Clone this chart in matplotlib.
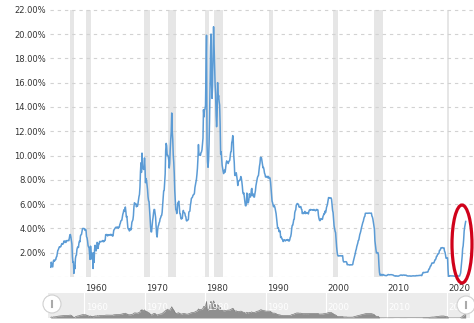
import numpy as np
import matplotlib
matplotlib.use("Agg")
import matplotlib.pyplot as plt
from matplotlib.patches import Ellipse

# Effective federal funds rate (%), monthly, starting July 1954
rates_1950s = [
    0.80, 1.22, 1.07, 0.85, 0.83, 1.28,
    1.39, 1.29, 1.35, 1.43, 1.43, 1.64, 1.68, 1.96, 2.18, 2.24, 2.35, 2.48,
    2.45, 2.50, 2.50, 2.62, 2.75, 2.71, 2.75, 2.73, 2.95, 2.96, 2.88, 2.94,
    2.84, 3.00, 2.96, 3.00, 3.00, 3.00, 2.99, 3.24, 3.47, 3.50, 3.28, 2.98,
    2.72, 1.67, 1.20, 1.26, 0.30, 0.93, 0.68, 1.53, 1.76, 1.80, 2.27, 2.42,
    2.48, 2.43, 2.80, 2.96, 2.90, 3.39, 3.47, 3.50, 3.76, 3.98, 4.00, 3.99,
]
rates_1960s = [
    3.99, 3.97, 3.84, 3.92, 3.85, 3.32, 3.23, 2.98, 2.60, 2.47, 2.44, 1.98,
    1.45, 2.54, 2.02, 1.49, 1.98, 1.73, 0.70, 2.00, 1.20, 2.26, 2.61, 2.33,
    2.15, 2.37, 2.85, 2.78, 2.36, 2.68, 2.71, 2.93, 2.90, 2.90, 2.94, 2.93,
    2.92, 3.00, 2.98, 2.90, 3.00, 2.99, 3.02, 3.49, 3.48, 3.50, 3.48, 3.38,
    3.48, 3.48, 3.43, 3.47, 3.50, 3.50, 3.42, 3.50, 3.45, 3.36, 3.52, 3.85,
    3.90, 3.98, 4.04, 4.09, 4.10, 4.04, 4.09, 4.12, 4.01, 4.08, 4.10, 4.32,
    4.42, 4.60, 4.65, 4.67, 4.90, 5.17, 5.30, 5.53, 5.40, 5.53, 5.76, 5.40,
    4.94, 5.00, 4.53, 4.05, 3.94, 3.98, 3.79, 3.90, 3.99, 3.88, 4.13, 4.51,
    4.60, 4.71, 5.05, 5.76, 6.11, 6.07, 6.02, 6.03, 5.78, 5.91, 5.82, 6.02,
    6.30, 6.61, 6.79, 7.41, 8.67, 9.40, 8.61, 10.20, 9.15, 9.00, 8.85, 8.97,
]
rates_1970s = [
    9.80, 8.98, 7.76, 8.10, 7.95, 7.61, 7.21, 6.61, 6.29, 6.20, 5.60, 4.90,
    4.14, 3.72, 3.71, 4.16, 4.63, 4.91, 5.31, 5.56, 5.55, 5.20, 4.91, 4.14,
    3.50, 3.29, 3.83, 4.17, 4.27, 4.46, 4.55, 4.80, 4.87, 5.04, 5.06, 5.33,
    5.94, 6.58, 7.09, 7.12, 7.84, 8.49, 10.40, 11.00, 10.80, 10.01, 10.03, 9.95,
    9.65, 8.97, 9.35, 10.51, 11.31, 11.93, 13.50, 12.01, 11.34, 10.06, 9.45, 8.53,
    7.13, 6.24, 5.54, 5.49, 5.22, 5.55, 6.10, 6.14, 6.24, 5.82, 5.22, 5.20,
    4.87, 4.77, 4.84, 4.82, 5.29, 5.48, 5.31, 5.29, 5.25, 5.02, 4.95, 4.65,
    4.61, 4.68, 4.69, 4.73, 5.35, 5.39, 5.42, 5.90, 6.14, 6.47, 6.51, 6.56,
    6.70, 6.78, 6.79, 6.89, 7.36, 7.60, 7.81, 8.04, 8.45, 8.96, 9.76, 10.90,
    10.07, 10.06, 10.09, 10.01, 10.24, 10.29, 10.47, 10.94, 11.43, 13.77, 13.18, 13.78,
]
rates_1980s = [
    13.82, 14.13, 17.19, 19.90, 10.98, 9.47, 9.03, 9.61, 10.87, 12.81, 15.85, 18.90,
    20.00, 15.93, 14.70, 15.72, 18.52, 20.60, 19.04, 17.82, 15.87, 15.08, 13.31, 12.37,
    13.22, 16.00, 14.68, 14.94, 14.45, 14.15, 12.59, 10.12, 10.31, 9.71, 9.20, 8.95,
    8.68, 8.51, 8.77, 8.80, 8.63, 8.98, 9.37, 9.56, 9.45, 9.48, 9.34, 9.47,
    9.56, 9.59, 9.91, 10.29, 10.32, 11.06, 11.23, 11.64, 11.30, 9.99, 9.43, 8.38,
    8.35, 8.50, 8.58, 8.27, 7.97, 7.53, 7.88, 7.90, 7.92, 7.99, 8.05, 8.27,
    8.14, 7.86, 7.48, 6.99, 6.85, 6.92, 6.56, 6.17, 5.89, 5.85, 6.04, 6.91,
    6.43, 6.10, 6.13, 6.37, 6.85, 6.73, 6.58, 6.73, 7.22, 7.29, 6.69, 6.77,
    6.83, 6.58, 6.58, 6.87, 7.09, 7.51, 7.75, 8.01, 8.19, 8.30, 8.35, 8.76,
    9.12, 9.36, 9.85, 9.84, 9.81, 9.53, 9.24, 8.99, 9.02, 8.84, 8.55, 8.45,
]
rates_1990s = [
    8.23, 8.24, 8.28, 8.26, 8.18, 8.29, 8.15, 8.13, 8.20, 8.11, 7.81, 7.31,
    6.91, 6.25, 6.12, 5.91, 5.78, 5.90, 5.82, 5.66, 5.45, 5.21, 4.81, 4.43,
    4.03, 4.06, 3.98, 3.73, 3.82, 3.76, 3.25, 3.30, 3.22, 3.10, 3.09, 2.92,
    3.02, 3.03, 3.07, 2.96, 3.00, 3.04, 3.06, 3.03, 3.09, 2.99, 3.02, 2.96,
    3.05, 3.25, 3.34, 3.56, 4.01, 4.25, 4.26, 4.47, 4.73, 4.76, 5.29, 5.45,
    5.53, 5.92, 5.98, 6.05, 6.01, 6.00, 5.85, 5.74, 5.80, 5.76, 5.80, 5.60,
    5.56, 5.22, 5.31, 5.22, 5.24, 5.27, 5.40, 5.22, 5.30, 5.24, 5.31, 5.29,
    5.25, 5.19, 5.39, 5.51, 5.50, 5.56, 5.52, 5.54, 5.54, 5.50, 5.52, 5.50,
    5.56, 5.51, 5.49, 5.45, 5.49, 5.56, 5.54, 5.55, 5.51, 5.07, 4.83, 4.68,
    4.63, 4.76, 4.81, 4.74, 4.74, 4.76, 4.99, 5.07, 5.22, 5.20, 5.42, 5.30,
]
rates_2000s = [
    5.45, 5.73, 5.85, 6.02, 6.27, 6.53, 6.54, 6.50, 6.52, 6.51, 6.51, 6.40,
    5.98, 5.49, 5.31, 4.80, 4.21, 3.97, 3.77, 3.65, 3.07, 2.49, 2.09, 1.82,
    1.73, 1.74, 1.73, 1.75, 1.75, 1.75, 1.73, 1.74, 1.75, 1.75, 1.34, 1.24,
    1.24, 1.26, 1.25, 1.26, 1.26, 1.22, 1.01, 1.03, 1.01, 1.01, 1.00, 0.98,
    1.00, 1.01, 1.00, 1.00, 1.00, 1.03, 1.26, 1.43, 1.61, 1.76, 1.93, 2.16,
    2.28, 2.50, 2.63, 2.79, 3.00, 3.04, 3.26, 3.50, 3.62, 3.78, 4.00, 4.16,
    4.29, 4.49, 4.59, 4.79, 4.94, 4.99, 5.24, 5.25, 5.25, 5.25, 5.25, 5.24,
    5.25, 5.26, 5.26, 5.25, 5.25, 5.25, 5.26, 5.02, 4.94, 4.76, 4.49, 4.24,
    3.94, 2.98, 2.61, 2.28, 1.98, 2.00, 2.01, 2.00, 1.81, 0.97, 0.39, 0.16,
    0.15, 0.22, 0.18, 0.15, 0.18, 0.21, 0.16, 0.16, 0.15, 0.12, 0.12, 0.12,
]
rates_2010s = [
    0.11, 0.13, 0.16, 0.20, 0.20, 0.18, 0.18, 0.19, 0.19, 0.19, 0.19, 0.18,
    0.17, 0.16, 0.14, 0.10, 0.09, 0.09, 0.07, 0.10, 0.08, 0.07, 0.08, 0.07,
    0.08, 0.10, 0.13, 0.14, 0.16, 0.16, 0.16, 0.13, 0.14, 0.16, 0.16, 0.16,
    0.14, 0.15, 0.14, 0.15, 0.11, 0.09, 0.09, 0.08, 0.08, 0.09, 0.08, 0.09,
    0.07, 0.07, 0.08, 0.09, 0.09, 0.10, 0.09, 0.09, 0.09, 0.09, 0.09, 0.12,
    0.11, 0.11, 0.11, 0.12, 0.12, 0.13, 0.13, 0.14, 0.14, 0.12, 0.12, 0.24,
    0.34, 0.38, 0.36, 0.37, 0.37, 0.38, 0.39, 0.40, 0.40, 0.40, 0.41, 0.54,
    0.65, 0.66, 0.79, 0.90, 0.91, 1.04, 1.15, 1.16, 1.15, 1.15, 1.16, 1.30,
    1.41, 1.42, 1.51, 1.69, 1.70, 1.82, 1.91, 1.91, 1.95, 2.19, 2.20, 2.27,
    2.40, 2.40, 2.41, 2.42, 2.39, 2.38, 2.40, 2.13, 2.04, 1.83, 1.55, 1.55,
]
rates_2020s = [
    1.55, 1.58, 0.65, 0.05, 0.05, 0.08, 0.09, 0.10, 0.09, 0.09, 0.09, 0.09,
    0.09, 0.08, 0.07, 0.07, 0.06, 0.08, 0.10, 0.09, 0.08, 0.08, 0.08, 0.08,
    0.08, 0.08, 0.20, 0.33, 0.77, 1.21, 1.68, 2.33, 2.56, 3.08, 3.78, 4.10,
    4.33, 4.57,
]
start_year = 1954.5  # July 1954

# NBER recessions (start, end) in decimal years
recession_starts = [1953.58, 1957.67, 1960.33, 1969.92, 1973.92, 1980.0,
                    1981.5, 1990.5, 2001.17, 2007.92, 2020.08]
recession_ends = [1954.38, 1958.33, 1961.17, 1970.92, 1975.25, 1980.58,
                  1982.92, 1991.25, 2001.92, 2009.5, 2020.33]

y_ticks = [2, 4, 6, 8, 10, 12, 14, 16, 18, 20, 22]
y_grid = [0] + y_ticks
x_years = [1960, 1970, 1980, 1990, 2000, 2010, 2020]

rates = np.array(rates_1950s + rates_1960s + rates_1970s + rates_1980s +
                 rates_1990s + rates_2000s + rates_2010s + rates_2020s)
dates = start_year + np.arange(len(rates)) / 12.0

W, H = 474, 323
fig = plt.figure(figsize=(W / 100, H / 100), dpi=100)
fig.patch.set_facecolor("white")

def px_axes(l, r, top, bottom):
    return fig.add_axes([l / W, 1 - bottom / H, (r - l) / W, (bottom - top) / H])

# Main axes
ax = px_axes(50, 474, 5, 277)
ax.set_xlim(1954.38, 2024.46)
ymax = 22.39
ax.set_ylim(0, ymax)
for s in ax.spines.values():
    s.set_visible(False)

for s0, s1 in zip(recession_starts, recession_ends):
    ax.axvspan(s0, s1, ymin=0, ymax=22 / ymax, color="#e6e6e6", lw=0, zorder=0)

for g in y_grid:
    ax.axhline(g, color="#d2d2d2", lw=0.8, dashes=(3, 3.5), zorder=1)

ax.plot(dates, rates, color="#5b9bd5", lw=1.1, zorder=3)

ax.set_yticks(y_ticks)
ax.set_yticklabels([f"{v:.2f}%" for v in y_ticks])
ax.tick_params(axis="y", length=0, pad=3, labelsize=6.0, labelcolor="#333333")
ax.set_xticks([])
for yr in x_years:
    ax.text(yr + 0.2, -0.55, str(yr), ha="left", va="top", fontsize=6.2,
            color="#333333", transform=ax.transData, clip_on=False)

# Red ellipse highlighting recent rise
ell = Ellipse((0.9717, 0.1213), 0.0472, 0.2868, transform=ax.transAxes,
              fill=False, edgecolor="#d0021b", lw=2.3, clip_on=False, zorder=5)
ax.add_patch(ell)

# Navigator
nav = px_axes(48, 470, 293, 318)
nav.set_xlim(1954.05, 2023.8)
nav.set_ylim(0, 30)
nav.set_facecolor("#ececec")
for s in nav.spines.values():
    s.set_visible(False)
nav.set_xticks([])
nav.set_yticks([])
for yr in x_years:
    nav.axvline(yr, color="white", lw=0.8, zorder=1)
    nav.text(yr + 0.3, 12, str(yr), color="white", fontsize=6.2, ha="left",
             va="center", zorder=4)
nav.fill_between(dates, rates, 0, color="#8f8f8f", lw=0, zorder=2)
nav.plot(dates, rates, color="#7a7a7a", lw=0.5, zorder=3)

# Handles
for cx, cy in [(52, 304), (466, 305)]:
    fig.patches.append(Ellipse((cx / W, 1 - cy / H), 18 / W, 18 / H,
                               transform=fig.transFigure, facecolor="white",
                               edgecolor="#d0d0d0", lw=0.8, zorder=10))
    fig.lines.append(plt.Line2D([cx / W, cx / W], [1 - (cy - 3) / H, 1 - (cy + 3) / H],
                                transform=fig.transFigure, color="#aaaaaa", lw=1.5,
                                zorder=11))

fig.savefig("out.png", dpi=100, facecolor="white")
